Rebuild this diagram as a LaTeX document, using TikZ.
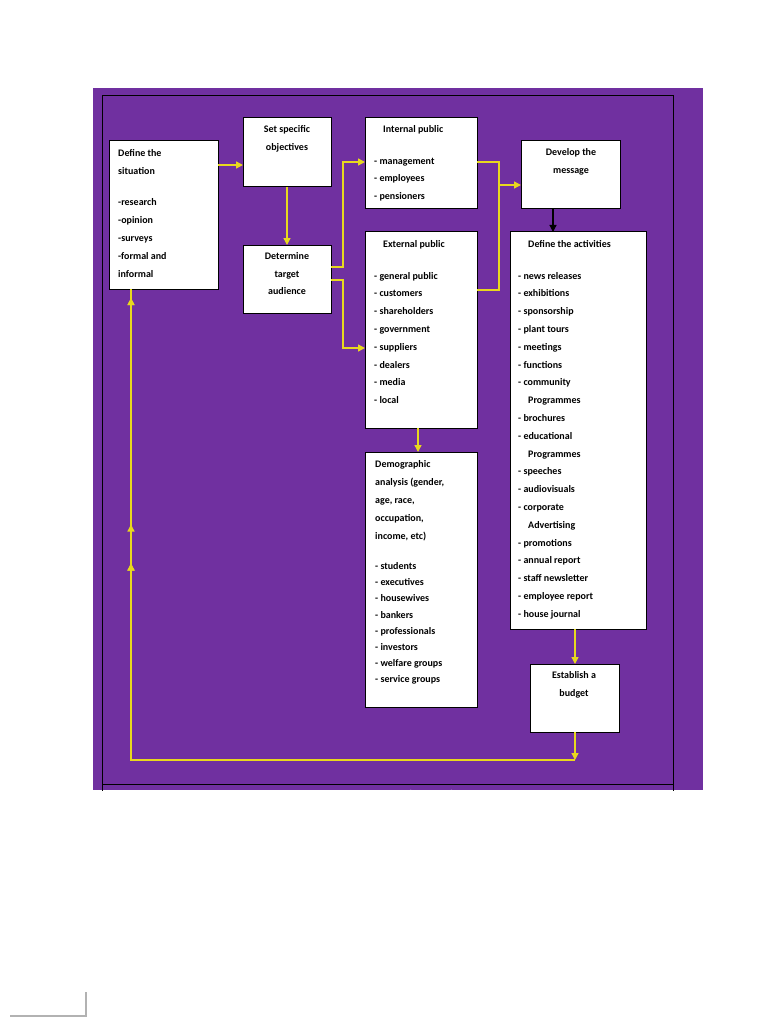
\documentclass[tikz,border=0pt]{standalone}
\usepackage{fontspec}
\setmainfont{Carlito}
\usetikzlibrary{arrows.meta,decorations.markings}
\definecolor{purp}{HTML}{7030A0}
\definecolor{yel}{HTML}{E8D81E}
\begin{document}
\begin{tikzpicture}[x=1pt,y=-1pt,
 box/.style={draw=black,line width=1pt,fill=white,anchor=north west,inner sep=0pt,outer sep=0pt},
 txt/.style={anchor=north west,inner sep=0pt,align=left,font=\bfseries\fontsize{10}{17.8}\selectfont},
 ctxt/.style={anchor=north,inner sep=0pt,align=center,font=\bfseries\fontsize{10}{17.8}\selectfont},
 yl/.style={draw=yel,line width=1.4pt},
 ya/.style={yl,-{Triangle[length=7pt,width=7pt]}},
 midl/.style={postaction=decorate,decoration={markings,mark=at position #1 with {\arrow[yel]{Triangle[length=7pt,width=7pt]}}}}]
\useasboundingbox (0,0) rectangle (768,1024);
\fill[white] (0,0) rectangle (768,1024);
\fill[purp] (93,88) rectangle (703,790);
\begin{scope}
\clip (93,88) rectangle (703,790);
\draw[black,line width=1pt] (102,96) rectangle (673,784);
\draw[black,line width=1pt] (102,784) -- (102,800) (673,784) -- (673,800);
\node[font=\bfseries\fontsize{10}{12}\selectfont,text=white] (src) at (388,795) {Source: Shiner et al. (2007:107)};
\end{scope}
\draw[gray!60,line width=1.2pt] (10,1016) -- (86,1016) -- (86,992);
% boxes
\node[box,minimum width=109,minimum height=148] (def) at (109,141) {};
\node[box,minimum width=88,minimum height=69] (set) at (243,118) {};
\node[box,minimum width=88,minimum height=68] (det) at (243,245) {};
\node[box,minimum width=112,minimum height=91] (int) at (365,118) {};
\node[box,minimum width=112,minimum height=196] (ext) at (365,232) {};
\node[box,minimum width=112,minimum height=255] (dem) at (365,452) {};
\node[box,minimum width=99,minimum height=68] (msg) at (521,141) {};
\node[box,minimum width=136,minimum height=397] (act) at (510,232) {};
\node[box,minimum width=89,minimum height=68] (bud) at (530,664) {};
% texts
\node[txt] (tdef) at (118,149) {Define the\\situation\\[14pt]-research\\-opinion\\-surveys\\-formal and\\informal};
\node[ctxt] (tset) at (287,125) {Set specific\\objectives};
\node[ctxt] (tdet) at (287,252) {Determine\\target\\audience};
\node[txt] (tint) at (374,125) {\hspace*{9pt}Internal public\\[14pt]-\ management\\-\ employees\\-\ pensioners};
\node[txt] (text) at (374,240) {\hspace*{9pt}External public\\[14pt]-\ general public\\-\ customers\\-\ shareholders\\-\ government\\-\ suppliers\\-\ dealers\\-\ media\\-\ local};
\node[txt,font=\bfseries\fontsize{10}{16.1}\selectfont] (tdem) at (375,460) {Demographic\\[2pt]analysis (gender,\\[2pt]age, race,\\[2pt]occupation,\\[2pt]income, etc)\\[14pt]-\ students\\-\ executives\\-\ housewives\\-\ bankers\\-\ professionals\\-\ investors\\-\ welfare groups\\-\ service groups};
\node[ctxt] (tmsg) at (571,148) {Develop the\\message};
\node[txt] (tact) at (518,240) {\hspace*{10pt}Define the activities\\[14pt]-\ news releases\\-\ exhibitions\\-\ sponsorship\\-\ plant tours\\-\ meetings\\-\ functions\\-\ community\\\hspace*{10pt}Programmes\\-\ brochures\\-\ educational\\\hspace*{10pt}Programmes\\-\ speeches\\-\ audiovisuals\\-\ corporate\\\hspace*{10pt}Advertising\\-\ promotions\\-\ annual report\\-\ staff newsletter\\-\ employee report\\-\ house journal};
\node[ctxt] (tbud) at (574,671) {Establish a\\budget};
% connectors
\coordinate (c1) at (343,267); \coordinate (c2) at (343,280);
\coordinate (c3) at (499,162); \coordinate (c4) at (499,290);
\coordinate (c5) at (575,760); \coordinate (c6) at (131,760);
\draw[ya] (def.east |- 0,165) -- (set.west |- 0,165);
\draw[ya] (set.south) -- (det.north);
\draw[ya] (det.east |- c1) -- (c1) |- (int.west |- 0,162);
\draw[ya] (det.east |- c2) -- (c2) |- (ext.west |- 0,348);
\draw[yl] (int.east |- c3) -- (c3) -- (c4) -- (ext.east |- c4);
\draw[ya] (c3 |- 0,185) -- (msg.west |- 0,185);
\draw[black,line width=1.2pt,-{Triangle[length=7pt,width=7pt]}] (msg.south -| 553,0) -- (act.north -| 553,0);
\draw[ya] (ext.south -| 418,0) -- (dem.north -| 418,0);
\draw[ya] (act.south -| 575,0) -- (bud.north -| 575,0);
\draw[ya] (bud.south -| 575,0) -- (c5);
\draw[yl,midl=0.7,midl=0.99] (c5) -- (c6) -- (def.south -| c6);
\draw[yl,midl=0.5] (c6) -- (def.south -| c6);
\end{tikzpicture}
\end{document}
